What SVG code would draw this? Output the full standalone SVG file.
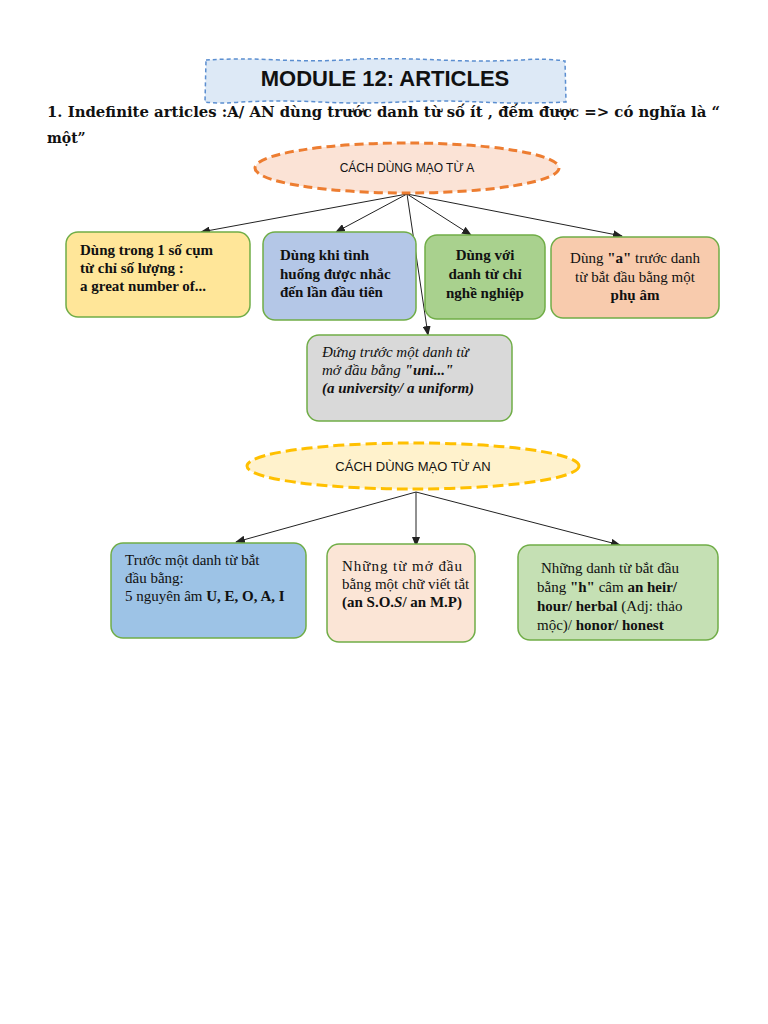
<svg xmlns="http://www.w3.org/2000/svg" width="768" height="1024" viewBox="0 0 768 1024">
<style>
.t{font-family:"Liberation Serif","DejaVu Serif",serif;font-size:15px;fill:#111}
.h{font-family:"DejaVu Serif","Liberation Serif",serif;font-size:14px;font-weight:bold;fill:#111}
.b{font-weight:bold}
.s{font-family:"Liberation Sans",Arial,sans-serif;fill:#111}
.box{stroke:#70ad47;stroke-width:1.5}
.c{stroke:#222;stroke-width:1;fill:none;marker-end:url(#ah)}
</style>
<defs><marker id="ah" markerWidth="10" markerHeight="8" refX="9" refY="4" orient="auto" markerUnits="userSpaceOnUse"><path d="M0,0 L10,4 L0,8 z" fill="#222"/></marker></defs>
<rect width="768" height="1024" fill="#fff"/>
<g id="title">
<path d="M206,60 Q240,58 280,60 T360,59 Q400,58 440,60 T520,60 Q545,58 565,61 L566,102 Q520,104 480,102 T400,102 Q360,104 320,102 T240,102 Q220,104 205,102 Z" fill="#dde9f6" stroke="#5b8ed0" stroke-width="1.5" stroke-dasharray="4,3"/>
<text x="385" y="86" text-anchor="middle" class="s b" font-size="22">MODULE 12: ARTICLES</text>
</g>
<g id="heading">
<text x="47" y="117" class="h" textLength="673" lengthAdjust="spacingAndGlyphs">1. Indefinite articles :A/ AN dùng trước danh từ số ít , đếm được =&gt; có nghĩa là “</text>
<text x="47" y="143" class="h">một”</text>
</g>
<g id="connectors">
<path class="c" d="M407,194 L201,232"/>
<path class="c" d="M407,194 L336,232"/>
<path class="c" d="M407,194 L471,235"/>
<path class="c" d="M407,194 L622,236"/>
<path class="c" d="M407,194 L428,335"/>
<path class="c" d="M416,492 L236,542"/>
<path class="c" d="M416,492 L416,546"/>
<path class="c" d="M416,492 L620,545"/>
</g>
<g id="nodeA">
<ellipse cx="407" cy="168" rx="152" ry="25" fill="#fbe3d6" stroke="#ed7d31" stroke-width="3" stroke-dasharray="9,5"/>
<text x="407" y="172" text-anchor="middle" class="s" font-size="12">CÁCH DÙNG MẠO TỪ A</text>
</g>
<g id="a1"><rect class="box" x="66" y="232" width="184" height="85" rx="12" fill="#ffe699"/>
<text class="t b" x="80" y="255">Dùng trong 1 số cụm</text><text class="t b" x="80" y="273">từ chỉ số lượng :</text><text class="t b" x="80" y="291">a great number of...</text></g>
<g id="a2"><rect class="box" x="263" y="232" width="153" height="88" rx="12" fill="#b4c7e7"/>
<text class="t b" x="280" y="260">Dùng khi tình</text><text class="t b" x="280" y="279">huống được nhắc</text><text class="t b" x="280" y="297">đến lần đầu tiên</text></g>
<g id="a3"><rect class="box" x="425" y="235" width="120" height="84" rx="12" fill="#a9d18e"/>
<text class="t b" x="485" y="260" text-anchor="middle">Dùng với</text><text class="t b" x="485" y="279" text-anchor="middle">danh từ chỉ</text><text class="t b" x="485" y="298" text-anchor="middle">nghề nghiệp</text></g>
<g id="a4"><rect class="box" x="551" y="237" width="168" height="81" rx="12" fill="#f8cbad"/>
<text class="t" x="635" y="263" text-anchor="middle">Dùng <tspan class="b">"a"</tspan> trước danh</text><text class="t" x="635" y="282" text-anchor="middle">từ bắt đầu bằng một</text><text class="t b" x="635" y="300" text-anchor="middle">phụ âm</text></g>
<g id="a5"><rect class="box" x="307" y="335" width="205" height="86" rx="12" fill="#d9d9d9"/>
<text class="t" font-style="italic" x="322" y="357">Đứng trước một danh từ</text><text class="t" font-style="italic" x="322" y="375">mở đầu bằng <tspan class="b">"uni..."</tspan></text><text class="t b" font-style="italic" x="322" y="393">(a university/ a uniform)</text></g>
<g id="nodeAN">
<ellipse cx="413" cy="466" rx="166" ry="23" fill="#fff2cc" stroke="#ffc000" stroke-width="3" stroke-dasharray="11,5"/>
<text x="413" y="471" text-anchor="middle" class="s" font-size="13">CÁCH DÙNG MẠO TỪ AN</text>
</g>
<g id="n1"><rect class="box" x="111" y="543" width="195" height="95" rx="12" fill="#9dc3e6"/>
<text class="t" x="125" y="565">Trước một danh từ bắt</text><text class="t" x="125" y="583">đầu bằng:</text><text class="t" x="125" y="601">5 nguyên âm <tspan class="b">U, E, O, A, I</tspan></text></g>
<g id="n2"><rect class="box" x="327" y="544" width="148" height="98" rx="12" fill="#fbe5d6"/>
<text class="t" x="342" y="571" textLength="120" lengthAdjust="spacing">Những từ mở đầu</text><text class="t" x="342" y="589">bằng một chữ viết tắt</text><text class="t b" x="342" y="607">(an S.O.<tspan font-style="italic">S</tspan>/ an M.P)</text></g>
<g id="n3"><rect class="box" x="518" y="545" width="200" height="95" rx="12" fill="#c5e0b4"/>
<text class="t" x="541" y="573">Những danh từ bắt đầu</text><text class="t" x="537" y="592">bằng <tspan class="b">"h"</tspan> câm <tspan class="b">an heir/</tspan></text><text class="t" x="537" y="611"><tspan class="b">hour/ herbal</tspan> (Adj: thảo</text><text class="t" x="537" y="630">mộc)/ <tspan class="b">honor/ honest</tspan></text></g>
</svg>
